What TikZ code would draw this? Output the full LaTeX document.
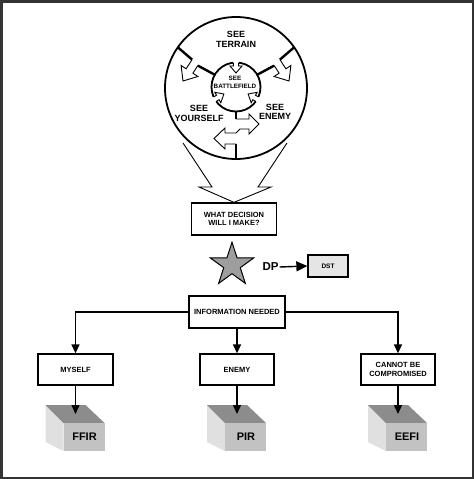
\documentclass[tikz,border=0pt]{standalone}
\usepackage{fontspec}
\setmainfont{Liberation Sans}
\usetikzlibrary{arrows.meta,shapes.geometric}
\begin{document}
\begin{tikzpicture}[x=1pt,y=-1pt,
  lbl/.style={font=\bfseries\fontsize{9}{9.3}\selectfont, align=center, inner sep=0pt},
  smalllbl/.style={font=\bfseries\fontsize{6.3}{8}\selectfont, align=center, inner sep=0pt},
  plainbox/.style={draw=black, line width=1.3pt, fill=white, inner sep=0pt, align=center,
    font=\bfseries\fontsize{7.5}{8.6}\selectfont},
  conn/.style={line width=1.4pt, -{Triangle[width=8pt,length=9pt]}},
  ring/.style={line width=1.8pt},
  divider/.style={line width=2.4pt},
  hollow/.style={line width=0.9pt, line join=miter},
  blocktop/.style={fill=black!45},
  blockleft/.style={fill=black!12},
  blockfront/.style={fill=black!24},
  blocktxt/.style={font=\bfseries\fontsize{11}{12}\selectfont, inner sep=0pt},
]
\useasboundingbox (0,0) rectangle (474,479);
\fill[white] (0,0) rectangle (474,479);
\draw[line width=2.5pt, draw=black!80] (1.25,1.25) rectangle (472.75,477.75);

% outer and inner circles
\draw[ring] (236,88) circle[radius=71];
\draw[ring] (236,87) circle[radius=24.5];

% inward hollow arrows on inner circle
\foreach \r in {0,120,-120} {
  \begin{scope}[shift={(236,87)}, rotate=\r]
    \fill[white] (-2.6,-27.5) -- (-2.6,-21) -- (2.6,-21) -- (2.6,-27.5) -- cycle;
    \draw[hollow] (-2.6,-24.36) -- (-2.6,-21) -- (-6,-21) -- (0,-14) -- (6,-21) -- (2.6,-21) -- (2.6,-24.36);
  \end{scope}
}

% upper-left divider with arrow into YOURSELF
\draw[divider] (177.8,47.3) -- (192.1,59.6);
\draw[hollow] (192.1,59.6) -- (186.1,68.8) -- (181.1,65.5) -- (183,81) -- (197.9,76.5) -- (192.9,73.2) -- (197.8,65.6);
\draw[divider] (197.8,65.6) -- (214.8,74.75);
% upper-right divider with arrow into ENEMY
\draw[divider] (294.2,47.3) -- (279.9,59.6);
\draw[hollow] (279.9,59.6) -- (285.9,68.8) -- (290.9,65.5) -- (289,81) -- (274.1,76.5) -- (279.1,73.2) -- (274.2,65.6);
\draw[divider] (274.2,65.6) -- (257.2,74.75);
% bottom divider with double arrow
\draw[divider] (236,111) -- (236,119);
\draw[hollow] (236,119) -- (249,119) -- (249,114) -- (259,124) -- (249,134) -- (249,129) -- (240,129)
  -- (236,133) -- (225,133) -- (225,128) -- (214,138.5) -- (225,149) -- (225,144) -- (236,144);
\draw[divider] (236,144) -- (236,159);

% circle labels
\node[lbl] (terrain) at (236,39.5) {SEE\\TERRAIN};
\node[lbl] (yourself) at (199,113.5) {SEE\\YOURSELF};
\node[lbl] (enemy) at (275,112) {SEE\\ENEMY};
\node[smalllbl] (battlefield) at (235,82) {SEE\\BATTLEFIELD};

% decision box and big hollow arrow
\node[plainbox, minimum width=85pt, minimum height=32pt] (decision) at (234,219) {WHAT DECISION\\WILL I MAKE?};
\draw[hollow] (183,143) -- (212,187) -- (199,187) -- (decision.north) -- (271,187) -- (258,187) -- (287,143);

% star, DP, DST
\node[star, star points=5, star point ratio=2.618, minimum size=45.5pt, inner sep=0pt,
  draw=black, line width=1pt, fill=black!38] (star) at (232,265) {};
\node[font=\bfseries\fontsize{11.5}{12}\selectfont, inner sep=1pt] (dp) at (270.5,267) {DP};
\node[plainbox, fill=black!10, minimum width=40pt, minimum height=22pt, font=\bfseries\fontsize{6.5}{8}\selectfont] (dst) at (328,266) {DST};
\draw[line width=1.4pt, -{Triangle[width=10pt,length=11pt]}] (dp.east) -- (dst.west);

% information needed
\node[plainbox, minimum width=96pt, minimum height=32pt] (info) at (237,312) {INFORMATION NEEDED};
\node[plainbox, minimum width=75pt, minimum height=31pt] (myself) at (75.5,369.5) {MYSELF};
\node[plainbox, minimum width=74pt, minimum height=31pt] (enemybox) at (237,369.5) {ENEMY};
\node[plainbox, minimum width=74pt, minimum height=31pt] (cannot) at (398,369.5) {CANNOT BE\\COMPROMISED};
\draw[conn] (info.west) -| (myself.north);
\draw[conn] (info.east) -| (cannot.north);
\draw[conn] (info.south) -- (enemybox.north);

% blocks
\newcommand{\mkblock}[3]{%
  \fill[blockleft] (#1,405) -- (#1+18,423) -- (#1+18,451) -- (#1,442) -- cycle;
  \fill[blocktop] (#1,405) -- (#1+40,405) -- (#1+59,423) -- (#1+18,423) -- cycle;
  \fill[blockfront] (#1+18,423) rectangle (#1+59,451);
  \node[blocktxt] (#2) at (#1+39,437) {#3};
  \coordinate (#2tip) at (#1+30,414);
}
\mkblock{45.5}{ffir}{FFIR}
\mkblock{207}{pir}{PIR}
\mkblock{368}{eefi}{EEFI}
\draw[conn] (myself.south) -- (ffirtip);
\draw[conn] (enemybox.south) -- (pirtip);
\draw[conn] (cannot.south) -- (eefitip);
\end{tikzpicture}
\end{document}
